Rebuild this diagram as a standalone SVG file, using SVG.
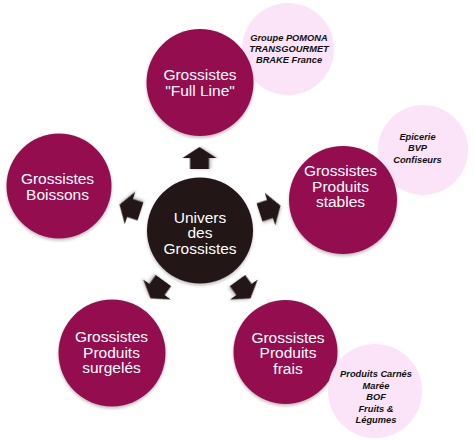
<svg xmlns="http://www.w3.org/2000/svg" width="474" height="441" viewBox="0 0 474 441">
<defs>
<filter id="sh" x="-20%" y="-20%" width="140%" height="150%">
<feDropShadow dx="0" dy="2" stdDeviation="1.8" flood-color="#000" flood-opacity="0.25"/>
</filter>
<path id="arr" d="M11,0 L0,-17 L0,-9.5 L-11,-9.5 L-11,9.5 L0,9.5 L0,17 Z"/>
</defs>
<style>
.main{fill:#940F50;filter:url(#sh)}
.hub{fill:#231816;filter:url(#sh)}
.note{fill:#FBE4F7}
.arrow{fill:#231816;filter:url(#sh)}
.t{font-family:"Liberation Sans",Arial,sans-serif;font-size:15.5px;fill:#fff;text-anchor:middle}
.n{font-family:"Liberation Sans",Arial,sans-serif;font-size:9.3px;font-weight:bold;font-style:italic;fill:#111;text-anchor:middle}
</style>
<rect width="474" height="441" fill="#fff"/>

<g id="note-fullline">
<circle class="note" cx="288" cy="49" r="46"/>
<text class="n"><tspan x="289" y="40.5">Groupe POMONA</tspan><tspan x="289" y="51.5">TRANSGOURMET</tspan><tspan x="289" y="62.5">BRAKE France</tspan></text>
</g>
<g id="note-stables">
<circle class="note" cx="423" cy="150" r="45"/>
<text class="n"><tspan x="417.5" y="139.5">Epicerie</tspan><tspan x="417.5" y="151">BVP</tspan><tspan x="417.5" y="162.5">Confiseurs</tspan></text>
</g>

<g id="connectors">
<use href="#arr" class="arrow" transform="translate(199.5,158) rotate(-90)"/>
<use href="#arr" class="arrow" transform="translate(270,209) rotate(-18)"/>
<use href="#arr" class="arrow" transform="translate(244,289.5) rotate(54)"/>
<use href="#arr" class="arrow" transform="translate(157,289.5) rotate(126)"/>
<use href="#arr" class="arrow" transform="translate(130,208) rotate(198)"/>
</g>

<g id="hub">
<circle class="hub" cx="200" cy="230.5" r="53"/>
<text class="t"><tspan x="200" y="222.5">Univers</tspan><tspan x="200" y="238">des</tspan><tspan x="200" y="253.5">Grossistes</tspan></text>
</g>
<g id="fullline">
<circle class="main" cx="200" cy="82.5" r="53.5"/>
<text class="t"><tspan x="200" y="80">Grossistes</tspan><tspan x="200" y="96">"Full Line"</tspan></text>
</g>
<g id="stables">
<circle class="main" cx="343" cy="200" r="54"/>
<text class="t"><tspan x="340.5" y="176">Grossistes</tspan><tspan x="340.5" y="191.5">Produits</tspan><tspan x="340.5" y="207">stables</tspan></text>
</g>
<g id="boissons">
<circle class="main" cx="59" cy="186" r="52.5"/>
<text class="t"><tspan x="57.5" y="184">Grossistes</tspan><tspan x="57.5" y="199.5">Boissons</tspan></text>
</g>
<g id="surgeles">
<circle class="main" cx="112" cy="353" r="53.5"/>
<text class="t"><tspan x="111.5" y="342">Grossistes</tspan><tspan x="111.5" y="357.5">Produits</tspan><tspan x="111.5" y="373">surgelés</tspan></text>
</g>
<g id="frais">
<circle class="main" cx="285.5" cy="352" r="52"/>
<text class="t"><tspan x="288" y="342.5">Grossistes</tspan><tspan x="288" y="358">Produits</tspan><tspan x="288" y="373.5">frais</tspan></text>
</g>
<g id="note-frais">
<circle class="note" cx="375" cy="391" r="47"/>
<text class="n"><tspan x="376" y="377">Produits Carnés</tspan><tspan x="376" y="388.5">Marée</tspan><tspan x="376" y="400">BOF</tspan><tspan x="376" y="411.5">Fruits &amp;</tspan><tspan x="376" y="423">Légumes</tspan></text>
</g>
</svg>
